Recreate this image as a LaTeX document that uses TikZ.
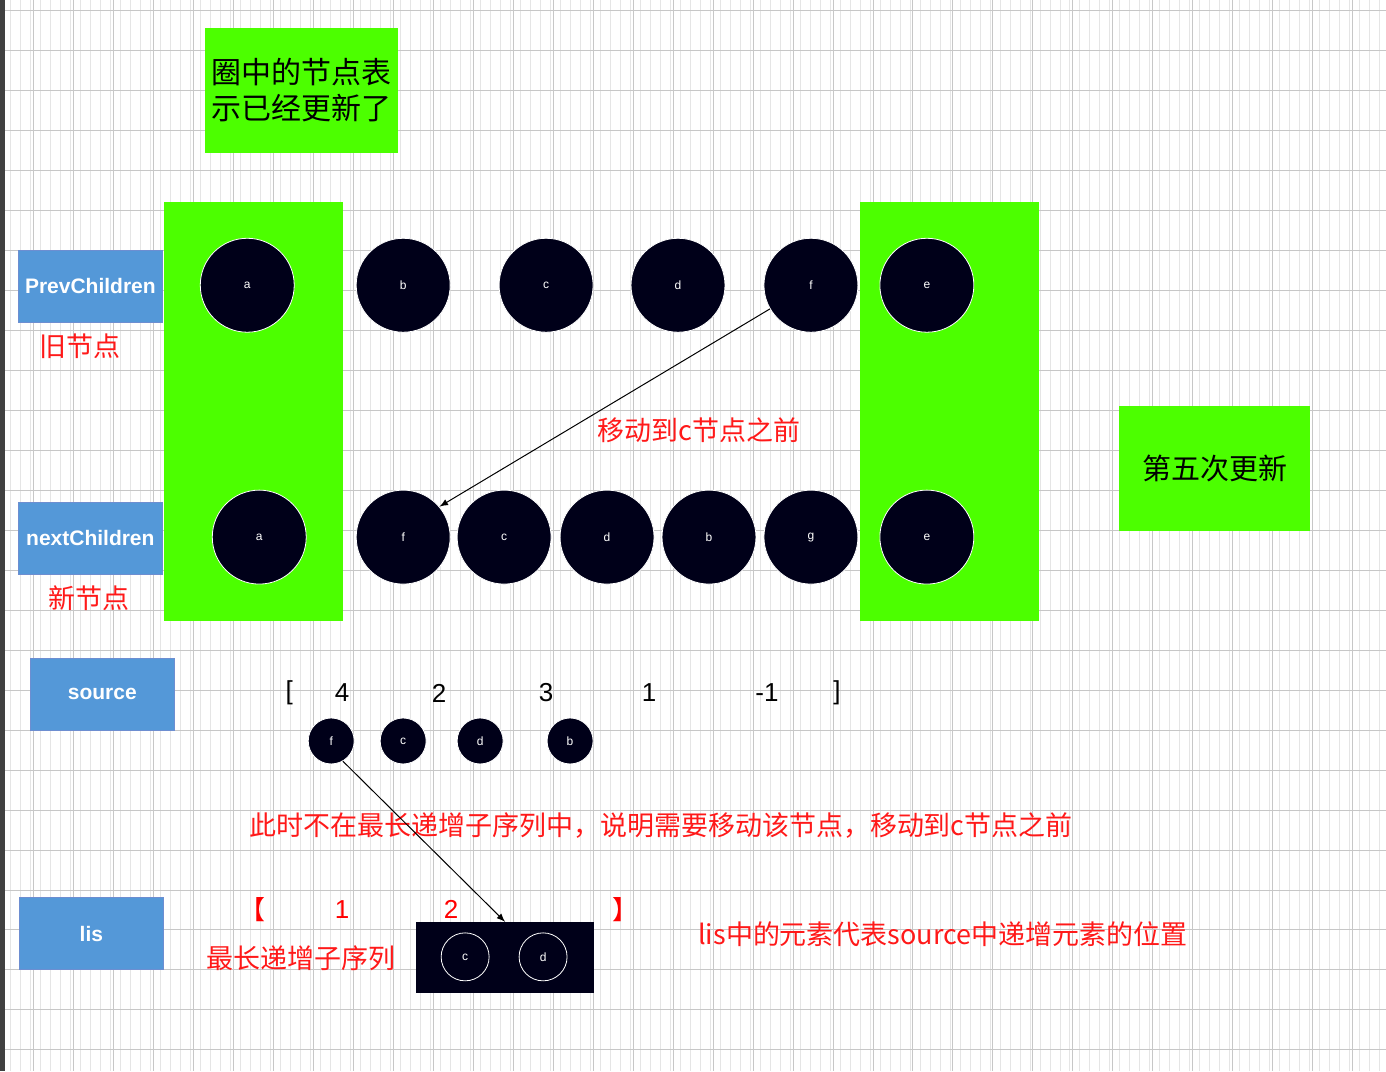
\documentclass[tikz,border=0pt]{standalone}
\usepackage{fontspec}
\setmainfont{Noto Sans CJK SC}
\newfontfamily\lat{Liberation Sans}
\begin{document}
\begin{tikzpicture}[x=0.5pt,y=-0.5pt,
 grn/.style={fill=green!60!lime, draw=none},
 blu/.style={fill=cyan!60!blue!70, draw=cyan!40!blue!60, text=white, font=\lat\bfseries\fontsize{10.5}{12}\selectfont},
 cir/.style={circle, fill=black!90!blue, draw=white, minimum size=47pt, inner sep=0, text=white, font=\lat\fontsize{6}{7}\selectfont},
 scir/.style={circle, fill=black!90!blue, draw=white, minimum size=23pt, inner sep=0, text=white, font=\lat\fontsize{6}{7}\selectfont},
 red/.style={text=red!90!white, font=\fontsize{13.5}{16}\selectfont},
 num/.style={font=\lat\fontsize{13}{15}\selectfont}]
\fill[white] (0,0) rectangle (1386,1071);
\draw[black!10, line width=0.3pt] (0,0) grid[step=10] (1386,1071);
\foreach \x in {33,73,...,1386} \draw[black!22, line width=0.4pt] (\x,0) -- (\x,1071);
\foreach \y in {10,50,...,1071} \draw[black!22, line width=0.4pt] (0,\y) -- (1386,\y);
\fill[black!75] (0,0) rectangle (5,1071);
\useasboundingbox (0,0) rectangle (1386,1071);
% boxes
\node[grn, minimum width=96pt, minimum height=62.5pt, align=left, font=\fontsize{15}{18}\selectfont] (title) at (301,90) {圈中的节点表\\示已经更新了};
\fill[green!60!lime] (164,202) rectangle (343,621);
\fill[green!60!lime] (860,202) rectangle (1039,621);
\node[grn, minimum width=95.5pt, minimum height=62.5pt, font=\fontsize{14.5}{17}\selectfont] (fifth) at (1215,468) {第五次更新};
\node[blu, minimum width=72pt, minimum height=36pt] (prev) at (90,286) {PrevChildren};
\node[blu, minimum width=72pt, minimum height=36pt] (next) at (90,538) {nextChildren};
\node[blu, minimum width=72pt, minimum height=36pt] (src) at (102,694) {source};
\node[blu, minimum width=72pt, minimum height=36pt] (lis) at (91,934) {lis};
\node[red] (old) at (80,346) {旧节点};
\node[red] (new) at (89,598) {新节点};
% top row
\foreach \n/\x/\l in {ta/247/a,tb/403/b,tc/546/c,td/678/d,tf/811/f,te/927/e}
 \node[cir] (\n) at (\x,285) {\l};
\foreach \n/\x/\l in {ba/259/a,bf/403/f,bc/504/c,bd/607/d,bb/709/b,bg/811/g,be/927/e}
 \node[cir] (\n) at (\x,537) {\l};
\draw[-latex, line width=0.5pt] (tf.-150) -- (bf.40);
\node[red] (mv) at (699,430) {移动到c节点之前};
% source
\foreach \t/\x in {[/289,4/342,2/439,3/546,1/649,-1/767,]/837}
 \node[num] at (\x,693) {\t};
\foreach \n/\x/\l in {sf/331/f,sc/403/c,sd/480/d,sb/570/b}
 \node[scir] (\n) at (\x,741) {\l};
\node[red] (note) at (661,826) {此时不在最长递增子序列中，说明需要移动该节点，移动到c节点之前};
% lis
\node[text=red, font=\fontsize{13}{15}\selectfont] at (252,910) {【};
\node[text=red, font=\fontsize{13}{15}\selectfont] at (625,910) {】};
\node[num, text=red] at (342,910) {1};
\node[num, text=red] at (451,910) {2};
\node[red] (lds) at (301,958) {最长递增子序列};
\fill[black!90!blue] (416,922) rectangle (594,993);
\coordinate (lisbox) at (505,922);
\node[scir, minimum size=24pt] (lc) at (465,957) {c};
\node[scir, minimum size=24pt] (ld) at (543,957) {d};
\draw[-latex, line width=0.5pt] (sf.-60) -- (lisbox);
\node[red] (lisnote) at (943,934) {lis中的元素代表source中递增元素的位置};
\end{tikzpicture}
\end{document}
